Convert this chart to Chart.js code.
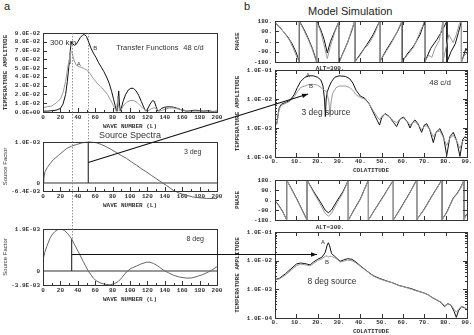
<!DOCTYPE html>
<html><head><meta charset="utf-8">
<script src="https://cdn.jsdelivr.net/npm/chart.js@4.4.1/dist/chart.umd.min.js"></script>
<style>
html,body{margin:0;padding:0;background:#fff;width:474px;height:335px;overflow:hidden;position:relative}
canvas{position:absolute;left:0;top:0}
.lab{position:absolute;font-family:"Liberation Sans",Arial,sans-serif;color:#222;white-space:nowrap}
</style></head><body>
<div class="lab" style="left:4px;top:0px;font-size:11px">a</div>
<div class="lab" style="left:244px;top:0px;font-size:11px">b</div>
<div class="lab" style="left:308px;top:5px;font-size:11px;color:#222">Model Simulation</div>
<canvas id="a1" width="474" height="335"></canvas>
<canvas id="a2" width="474" height="335"></canvas>
<canvas id="a3" width="474" height="335"></canvas>
<canvas id="b1" width="474" height="335"></canvas>
<canvas id="b2" width="474" height="335"></canvas>
<canvas id="b3" width="474" height="335"></canvas>
<canvas id="b4" width="474" height="335"></canvas>
<canvas id="ov" width="474" height="335"></canvas>
<script>
// ---------- DATA ----------
// Panel a, transfer functions (wave number L vs temperature amplitude)
const tfA_L = [0,5,10,15,20,23,26,28,30,31,32,33,34,36,38,40,43,46,50,54,58,62,66,70,74,78,81,83,84,85,86,87,88,90,93,96,100,104,108,112,116,119,122,125,128,131,134,137,140,145,150,155,160,165,170,180,190,200];
const tfA   = [0.005,0.006,0.007,0.010,0.015,0.022,0.035,0.048,0.060,0.066,0.070,0.069,0.065,0.058,0.054,0.052,0.051,0.050,0.048,0.044,0.038,0.033,0.029,0.025,0.020,0.013,0.007,0.003,0.001,0.006,0.018,0.006,0.001,0.003,0.008,0.011,0.013,0.013,0.011,0.007,0.003,0.001,0.002,0.004,0.005,0.003,0.001,0.002,0.003,0.0045,0.0045,0.0035,0.0025,0.0015,0.001,0.001,0.001,0.0005];
const tfB_L = [0,5,10,15,20,23,26,28,30,31,32,33,34,36,38,40,43,46,48,50,52,55,58,61,64,67,70,73,76,79,81,83,84,85,86,87,88,89,90,92,95,98,101,104,107,110,113,116,118,120,123,126,128,130,132,134,136,140,145,150,155,160,165,170,175,180,185,190,195,200];
const tfB   = [0.001,0.001,0.0015,0.002,0.004,0.009,0.020,0.035,0.055,0.066,0.076,0.080,0.078,0.076,0.077,0.080,0.085,0.088,0.088,0.086,0.081,0.073,0.067,0.062,0.056,0.051,0.046,0.040,0.033,0.023,0.015,0.007,0.003,0.001,0.010,0.024,0.008,0.001,0.004,0.012,0.020,0.025,0.027,0.027,0.024,0.019,0.012,0.005,0.001,0.003,0.009,0.013,0.012,0.006,0.001,0.002,0.004,0.0055,0.006,0.0055,0.004,0.002,0.001,0.0015,0.002,0.0015,0.001,0.0015,0.0005,0.001];
const tfYTicks  = [0,0.01,0.02,0.03,0.04,0.05,0.06,0.07,0.08,0.09];
const tfYLabels = ["0.0E+00","1.0E-02","2.0E-02","3.0E-02","4.0E-02","5.0E-02","6.0E-02","7.0E-02","8.0E-02","9.0E-02"];
const waveTicks  = [0,20,40,60,80,100,120,140,160,180,200];
const waveLabels = ["0","20","40","60","80","100","120","140","160","180","200"];
const waveMinor  = [10,30,50,70,90,110,130,150,170,190];

// Panel a, source spectra (normalised source factor)
const src3_L = [0,1,2.2,5,8,12,17.6,22,27,33,38.7,45,52,56,61.7,67,73,79,84.7,90,96,102,107.7,113,119,125,130.6,136,142,149.8,157,165,172,180,188,196,200];
const src3   = [0,0.12,0.27,0.38,0.47,0.57,0.67,0.75,0.84,0.90,0.94,0.98,1.0,0.995,0.98,0.94,0.88,0.81,0.74,0.67,0.60,0.51,0.43,0.35,0.27,0.18,0.10,0.02,-0.06,-0.18,-0.25,-0.30,-0.34,-0.36,-0.375,-0.38,-0.38];
const src3YTicks  = [-0.195,0,1];
const src3YLabels = ["-6.4E-03","0","1.0E-03"];
const src8_L = [0,2,4.3,8,11,13.7,16.5,19.5,22,25,28,31,33,36,40.6,46.4,52,57.9,61,65.5,70,77,82,86.6,91,96,101,107.7,113,119,123,127,132,138.5,144,150,156,165.5,171,177,183,188.5,194,199,200];
const src8   = [0.26,0.44,0.58,0.78,0.88,0.94,0.98,1.0,0.99,0.96,0.90,0.82,0.76,0.64,0.46,0.22,0.0,-0.17,-0.23,-0.28,-0.31,-0.33,-0.30,-0.25,-0.15,-0.02,0.06,0.12,0.17,0.21,0.21,0.18,0.12,0.02,-0.04,-0.10,-0.14,-0.17,-0.165,-0.13,-0.09,-0.04,0.02,0.09,0.10];
const src8YTicks  = [-0.333,0,1];
const src8YLabels = ["-3.9E-03","0","1.9E-03"];

// Panel b, colatitude axis
const colTicks  = [0,10,20,30,40,50,60,70,80,90];
const colLabels = ["0.","10.","20.","30.","40.","50.","60.","70.","80.","90."];
const phTicks   = [-180,-90,0,90,180];
const phLabels  = ["-180.","-90.","0.","90.","180."];
const ampTicks  = [1e-4,1e-3,1e-2,1e-1];
const ampLabels = ["1.0E-04","1.0E-03","1.0E-02","1.0E-01"];
const ampMinor  = [2e-4,3e-4,4e-4,5e-4,6e-4,7e-4,8e-4,9e-4,2e-3,3e-3,4e-3,5e-3,6e-3,7e-3,8e-3,9e-3,2e-2,3e-2,4e-2,5e-2,6e-2,7e-2,8e-2,9e-2];

// Phase, 3 deg source (wrap-arounds appear as repeated colatitudes)
const ph3A_c = [0,2,4,6,8,10,11.4,11.4,13.5,15.5,17.5,19.6,19.6,21.5,23,24.5,26,28,30.1,30.1,32,34,35.7,37.4,37.4,40,43,46,49.1,49.1,52,55,57.5,59.6,59.6,62,65,68,70.2,70.2,73,76,78.5,80.6,80.6,82.5,84.5,86,87.4,87.4,88.5,89.5,90];
const ph3A   = [165,130,85,40,-20,-100,-180,180,110,30,-60,-180,180,100,20,-100,0,90,180,-180,-95,-10,80,180,-180,-110,-30,60,180,-180,-80,10,90,180,-180,-110,-40,60,180,-180,-60,20,100,180,-180,-90,-20,80,180,-180,-120,-60,-80];
const ph3B_c = [0,1,3,5,7,9,11.3,11.3,13.5,15.5,17.5,19.4,19.4,21.5,23,24.5,26,28,30.1,30.1,32,34,35.5,37.4,37.4,40,42,44,46.5,49.1,49.1,52,55,57.5,59.4,59.4,62,65,67,69.5,70.2,70.2,72,73.5,75,77,78.7,78.7,81.5,83.5,85,86.5,87.4,87.4,88.5,90];
const ph3B   = [175,150,110,60,5,-80,-180,180,100,20,-70,-180,180,80,-30,-150,-40,80,180,-180,-100,-15,80,180,-180,-120,-60,-20,60,180,-180,-90,0,95,180,-180,-120,-50,40,150,180,-180,-120,-140,-60,10,180,-180,60,-10,60,160,180,-180,-130,-100];
// Amplitude, 3 deg source
const am3A_c = [0,0.5,1,1.5,2,3,5,7,9,10.5,12,14,16,18,20,21.5,22.5,23.2,23.6,24,24.5,25.5,26.5,28,30,33,35,36.5,38,40,42,44,46,48,49,50,51.6,53.5,55.5,57,58.5,60.2,62,63.3,64.5,65.6,67,68.7,70,71.1,72.5,74.2,75.5,77.3,79,80.5,82,83.6,85.2,86.7,88,89,90];
const am3A   = [2.0e-3,1.41e-3,1.58e-3,3.16e-3,5.0e-3,6.6e-3,7.6e-3,8.9e-3,1.41e-2,2.5e-2,3.98e-2,5.6e-2,6.3e-2,6.3e-2,5.6e-2,4.5e-2,2.8e-2,1.0e-2,2.5e-3,1.0e-2,1.78e-2,2.8e-2,3.98e-2,5.6e-2,6.3e-2,6.0e-2,5.0e-2,3.55e-2,2.0e-2,1.26e-2,1.07e-2,7.1e-3,3.55e-3,1.78e-3,1.26e-3,2.24e-3,3.16e-3,2.5e-3,1.58e-3,1.12e-3,2.0e-3,2.4e-3,1.66e-3,1.0e-3,1.58e-3,1.9e-3,1.41e-3,7.1e-4,1.26e-3,1.41e-3,8.9e-4,3.16e-4,7.1e-4,9.5e-4,5.0e-4,1.12e-4,5.0e-4,7.1e-4,3.55e-4,1.05e-4,3.98e-4,5.0e-4,4.5e-4];
const am3B_c = [0,0.5,1,1.5,2,3,5,7,9,10.5,12,14,16,18,20,21.5,23,24.2,25.3,25.8,26.3,27,28.5,30,33,35,36.5,38,40,42,44,46,48,49,50,51.6,53.5,55.5,57,58.5,60.2,62,63.3,64.5,65.6,67,68.7,70,71.1,72.5,74.2,75.5,77.3,79,80.5,82,83.6,85.2,86.7,88,89,90];
const am3B   = [1.78e-3,1.26e-3,1.41e-3,2.8e-3,4.5e-3,6.0e-3,7.1e-3,8.3e-3,1.2e-2,1.78e-2,2.5e-2,2.8e-2,3.2e-2,3.2e-2,3.0e-2,2.5e-2,2.0e-2,1.78e-2,7.9e-3,2.5e-3,7.9e-3,1.58e-2,2.4e-2,2.8e-2,2.8e-2,2.5e-2,2.0e-2,1.41e-2,1.12e-2,1.0e-2,7.1e-3,3.98e-3,2.4e-3,1.9e-3,2.5e-3,3.0e-3,2.4e-3,1.78e-3,1.51e-3,2.0e-3,2.2e-3,1.66e-3,1.26e-3,1.51e-3,1.66e-3,1.32e-3,8.9e-4,1.12e-3,1.2e-3,8.9e-4,5.0e-4,7.1e-4,7.9e-4,4.5e-4,2.5e-4,4.5e-4,5.6e-4,3.55e-4,2.0e-4,3.55e-4,3.98e-4,3.8e-4];
// Phase, 8 deg source
const ph8A_c = [0,1.5,3.5,5.5,5.5,8,10.5,13,15,15,18,21,23.5,25,26.5,29,32,34.4,34.4,37,40,43.8,43.8,47,51,55.5,55.5,59,63,66.4,66.4,70,74,78.2,78.2,80.5,83.6,85.2,87,88.6,88.6,89.3,90];
const ph8A   = [-5,-40,-100,-180,180,90,0,-100,-180,180,80,-10,-90,-115,-90,-10,80,180,-180,-90,10,180,-180,-80,40,180,-180,-70,60,180,-180,-80,50,180,-180,-110,20,55,110,180,-180,-140,-130];
const ph8B_c = [0,1.5,3.5,5.5,5.5,8,10.5,13,15,15,18,21,23.5,25,26.5,29,32,34.4,34.4,37,40,43.8,43.8,47,51,55.5,55.5,59,63,66.4,66.4,70,74,78.2,78.2,80.5,83.6,85.2,87,88.6,88.6,89.3,90];
const ph8B   = [-8,-45,-105,-180,180,85,-5,-105,-180,180,70,-30,-120,-145,-120,-30,70,180,-180,-95,5,180,-180,-85,35,180,-180,-75,55,180,-180,-85,45,180,-180,-115,15,50,105,180,-180,-145,-135];
// Amplitude, 8 deg source
const am8A_c = [0,2,5,8,10,12,14,16.5,18,20,22,23.5,24.5,25,25.6,26.5,28,29.5,30.5,32,34,36,38,40,43,46,49,52,55,58,61,64,67,70,72,74,76,78,79.5,81,82.5,84,85,86,87.5,89,90];
const am8A   = [2.2e-3,2.4e-3,3.55e-3,5.6e-3,7.6e-3,8.3e-3,7.9e-3,7.1e-3,8.9e-3,1.12e-2,1.32e-2,1.9e-2,3.55e-2,4.2e-2,3.3e-2,1.78e-2,1.41e-2,1.12e-2,9.5e-3,1.05e-2,1.17e-2,1.12e-2,8.9e-3,6.6e-3,4.4e-3,3.0e-3,2.4e-3,2.0e-3,1.7e-3,1.38e-3,1.2e-3,1.05e-3,8.7e-4,7.4e-4,6.3e-4,5.0e-4,4.2e-4,3.4e-4,2.5e-4,3.16e-4,2.8e-4,1.66e-4,1.05e-4,1.78e-4,2.5e-4,2.24e-4,1.9e-4];
const am8B_c = [0,2,5,8,10,12,14,16.5,18,20,22,23.5,24.5,25,25.6,26.5,28,29.5,30.5,32,34,36,38,40,43,46,49,52,55,58,61,64,67,70,72,74,76,78,79.5,81,82.5,84,85,86,87.5,89,90];
const am8B   = [2.1e-3,2.3e-3,3.16e-3,5.0e-3,6.6e-3,7.6e-3,7.2e-3,6.6e-3,7.9e-3,1.0e-2,1.17e-2,1.41e-2,1.48e-2,1.32e-2,1.41e-2,1.41e-2,1.26e-2,1.05e-2,8.9e-3,9.5e-3,1.05e-2,1.0e-2,8.3e-3,6.3e-3,4.3e-3,2.9e-3,2.3e-3,1.95e-3,1.7e-3,1.35e-3,1.2e-3,1.0e-3,8.5e-4,7.4e-4,6.3e-4,5.0e-4,4.3e-4,3.5e-4,2.7e-4,3.0e-4,2.8e-4,2.0e-4,1.6e-4,2.0e-4,2.6e-4,2.3e-4,2.0e-4];

// ---------- STYLE / HELPERS ----------
const DARK = '#111', LIGHT = '#9a9a9a', TXT = '#333';
const MONO = {family:'"Liberation Mono","DejaVu Sans Mono",monospace', size:6, weight:'bold'};
const SANS = '"Liberation Sans",Arial,sans-serif';
const pts = (xs, ys) => xs.map((x, i) => ({x, y: ys[i]}));

const framePlugin = {
  id: 'frame',
  afterDatasetsDraw(chart, args, o) {
    const {ctx, chartArea: a} = chart;
    const xs = chart.scales.x, ys = chart.scales.y;
    ctx.save();
    ctx.strokeStyle = '#333'; ctx.lineWidth = 1;
    ctx.strokeRect(Math.round(a.left) + 0.5, Math.round(a.top) + 0.5, Math.round(a.right - a.left), Math.round(a.bottom - a.top));
    ctx.beginPath();
    const xt = (list, len) => (list || []).forEach(v => {
      const p = Math.round(xs.getPixelForValue(v)) + 0.5;
      ctx.moveTo(p, a.bottom); ctx.lineTo(p, a.bottom - len);
      if (o.both) { ctx.moveTo(p, a.top); ctx.lineTo(p, a.top + len); }
    });
    const yt = (list, len) => (list || []).forEach(v => {
      const p = Math.round(ys.getPixelForValue(v)) + 0.5;
      ctx.moveTo(a.left, p); ctx.lineTo(a.left + len, p);
      if (o.both) { ctx.moveTo(a.right, p); ctx.lineTo(a.right - len, p); }
    });
    xt(o.xMajor, 4); xt(o.xMinor, 2); yt(o.yMajor, 4); yt(o.yMinor, 2);
    ctx.stroke();
    (o.notes || []).forEach(n => {
      ctx.font = n.font; ctx.fillStyle = n.color || TXT;
      ctx.textAlign = 'center'; ctx.textBaseline = 'middle';
      ctx.fillText(n.text, xs.getPixelForValue(n.x), ys.getPixelForValue(n.y));
    });
    ctx.restore();
  }
};

function mk(id, c) {
  return new Chart(document.getElementById(id), {
    type: 'line',
    data: {datasets: c.datasets.map(d => Object.assign({pointRadius: 0, borderWidth: 1, tension: 0, fill: false}, d))},
    options: {
      responsive: false, animation: false, devicePixelRatio: 1,
      layout: {padding: {left: c.pl, right: c.pr, top: c.pt, bottom: c.pb}},
      plugins: {legend: {display: false}, tooltip: {enabled: false}, frame: c.frame},
      scales: {
        x: {
          type: 'linear', min: c.xmin, max: c.xmax,
          afterFit: s => { s.height = c.xh; s.paddingLeft = 0; s.paddingRight = 0; },
          afterBuildTicks: s => { s.ticks = c.xTicks.map(v => ({value: v})); },
          ticks: {display: !!c.xLabels, callback: (v, i) => c.xLabels ? c.xLabels[i] : '', font: MONO, color: TXT, padding: c.xpad, maxRotation: 0, autoSkip: false},
          grid: {display: false, drawTicks: false}, border: {display: false},
          title: c.xTitle ? {display: true, text: c.xTitle, font: MONO, color: TXT, padding: {top: 0, bottom: c.xtpad}} : {display: false}
        },
        y: {
          type: c.ylog ? 'logarithmic' : 'linear', min: c.ymin, max: c.ymax,
          afterFit: s => { s.width = c.yw; s.paddingTop = 0; s.paddingBottom = 0; },
          afterBuildTicks: s => { s.ticks = c.yTicks.map(v => ({value: v})); },
          ticks: {callback: (v, i) => c.yLabels[i], font: MONO, color: TXT, padding: 3, autoSkip: false},
          grid: {display: false, drawTicks: false}, border: {display: false},
          title: {display: true, text: c.yTitle, font: c.yTitleFont || MONO, color: TXT, padding: {top: c.ytpad, bottom: 0}}
        }
      }
    },
    plugins: [framePlugin]
  });
}

// ---------- PANEL a ----------
const A1 = mk('a1', {
  pl: 0, yw: 43, pt: 33, pr: 257, xh: 20, pb: 203, xpad: 2, xtpad: 2,
  xmin: 0, xmax: 200, xTicks: waveTicks, xLabels: waveLabels, xTitle: 'WAVE NUMBER (L)',
  ymin: 0, ymax: 0.09, yTicks: tfYTicks, yLabels: tfYLabels, yTitle: 'TEMPERATURE AMPLITUDE', ytpad: 2,
  frame: {xMajor: waveTicks, xMinor: waveMinor, yMajor: tfYTicks, notes: [
    {x: 23, y: 0.0785, text: '300 km', font: '8px ' + SANS},
    {x: 120, y: 0.073, text: 'Transfer Functions', font: '7.5px ' + SANS},
    {x: 173, y: 0.073, text: '48 c/d', font: '7.5px ' + SANS},
    {x: 41, y: 0.054, text: 'A', font: '6px ' + SANS},
    {x: 60, y: 0.073, text: 'B', font: '6px ' + SANS}]},
  datasets: [
    {data: pts(tfA_L, tfA), borderColor: LIGHT},
    {data: pts(tfB_L, tfB), borderColor: DARK}]
});
const A2 = mk('a2', {
  pl: 0, yw: 43, pt: 142, pr: 257, xh: 20, pb: 335 - 191 - 20, xpad: 2, xtpad: 2,
  xmin: 0, xmax: 200, xTicks: waveTicks, xLabels: waveLabels, xTitle: 'WAVE NUMBER (L)',
  ymin: -0.195, ymax: 1, yTicks: src3YTicks, yLabels: src3YLabels, yTitle: 'Source Factor',
  yTitleFont: {family: SANS, size: 6}, ytpad: 2,
  frame: {xMajor: waveTicks, xMinor: waveMinor, notes: [
    {x: 100, y: 1.17, text: 'Source Spectra', font: '9px ' + SANS},
    {x: 172, y: 0.76, text: '3 deg', font: '7px ' + SANS}]},
  datasets: [
    {data: pts(src3_L, src3), borderColor: '#666', clip: false},
    {data: pts([0, 200], [0, 0]), borderColor: '#333'},
    {data: pts([52, 52], [0, 1]), borderColor: DARK}]
});
const A3 = mk('a3', {
  pl: 0, yw: 43, pt: 229, pr: 257, xh: 20, pb: 335 - 285 - 20, xpad: 2, xtpad: 2,
  xmin: 0, xmax: 200, xTicks: waveTicks, xLabels: waveLabels, xTitle: 'WAVE NUMBER (L)',
  ymin: -0.333, ymax: 1, yTicks: src8YTicks, yLabels: src8YLabels, yTitle: 'Source Factor',
  yTitleFont: {family: SANS, size: 6}, ytpad: 2,
  frame: {xMajor: waveTicks, xMinor: waveMinor, notes: [
    {x: 175, y: 0.76, text: '8 deg', font: '7px ' + SANS}]},
  datasets: [
    {data: pts(src8_L, src8), borderColor: '#666'},
    {data: pts([0, 200], [0, 0]), borderColor: '#333'},
    {data: pts([33, 33], [0, 0.76]), borderColor: DARK}]
});

// ---------- PANEL b ----------
const B1 = mk('b1', {
  pl: 232, yw: 43, pt: 21, pr: 7, xh: 2, pb: 335 - 62 - 2, xpad: 0, xtpad: 0,
  xmin: 0, xmax: 90, xTicks: colTicks, xLabels: null,
  ymin: -180, ymax: 180, yTicks: phTicks, yLabels: phLabels, yTitle: 'PHASE', ytpad: 1.5,
  frame: {both: true, xMajor: colTicks, yMajor: phTicks},
  datasets: [
    {data: pts(ph3B_c, ph3B), borderColor: LIGHT},
    {data: pts(ph3A_c, ph3A), borderColor: DARK}]
});
const B2 = mk('b2', {
  pl: 232, yw: 43, pt: 70, pr: 7, xh: 18, pb: 335 - 157 - 18, xpad: 1, xtpad: 0.5,
  xmin: 0, xmax: 90, xTicks: colTicks, xLabels: colLabels, xTitle: 'COLATITUDE',
  ylog: true, ymin: 1e-4, ymax: 1e-1, yTicks: ampTicks, yLabels: ampLabels, yTitle: 'TEMPERATURE AMPLITUDE', ytpad: 1.5,
  frame: {both: true, xMajor: colTicks, yMajor: ampTicks, yMinor: ampMinor, notes: [
    {x: 25.8, y: 0.117, text: 'ALT=300.', font: 'bold 6px "Liberation Mono",monospace'},
    {x: 15.5, y: 0.067, text: 'A', font: '6px ' + SANS},
    {x: 16.9, y: 0.028, text: 'B', font: '6px ' + SANS},
    {x: 77.4, y: 0.0356, text: '48 c/d', font: '8px ' + SANS},
    {x: 23.9, y: 0.0033, text: '3 deg source', font: '8.5px ' + SANS}]},
  datasets: [
    {data: pts(am3B_c, am3B), borderColor: LIGHT},
    {data: pts(am3A_c, am3A), borderColor: DARK}]
});
const B3 = mk('b3', {
  pl: 232, yw: 43, pt: 180, pr: 7, xh: 2, pb: 335 - 220 - 2, xpad: 0, xtpad: 0,
  xmin: 0, xmax: 90, xTicks: colTicks, xLabels: null,
  ymin: -180, ymax: 180, yTicks: phTicks, yLabels: phLabels, yTitle: 'PHASE', ytpad: 1.5,
  frame: {both: true, xMajor: colTicks, yMajor: phTicks},
  datasets: [
    {data: pts(ph8B_c, ph8B), borderColor: LIGHT},
    {data: pts(ph8A_c, ph8A), borderColor: DARK}]
});
const B4 = mk('b4', {
  pl: 232, yw: 43, pt: 232, pr: 7, xh: 17, pb: 0, xpad: 0.5, xtpad: 0,
  xmin: 0, xmax: 90, xTicks: colTicks, xLabels: colLabels, xTitle: 'COLATITUDE',
  ylog: true, ymin: 1e-4, ymax: 1e-1, yTicks: ampTicks, yLabels: ampLabels, yTitle: 'TEMPERATURE AMPLITUDE', ytpad: 1.5,
  frame: {both: true, xMajor: colTicks, yMajor: ampTicks, yMinor: ampMinor, notes: [
    {x: 25.8, y: 0.149, text: 'ALT=300.', font: 'bold 6px "Liberation Mono",monospace'},
    {x: 22.5, y: 0.045, text: 'A', font: '6px ' + SANS},
    {x: 24.4, y: 0.0085, text: 'B', font: '6px ' + SANS},
    {x: 26.7, y: 0.00188, text: '8 deg source', font: '8.5px ' + SANS}]},
  datasets: [
    {data: pts(am8B_c, am8B), borderColor: LIGHT},
    {data: pts(am8A_c, am8A), borderColor: DARK}]
});

// ---------- OVERLAY: guide lines and arrows ----------
(function () {
  const ctx = document.getElementById('ov').getContext('2d');
  const px = (ch, v) => ch.scales.x.getPixelForValue(v);
  const py = (ch, v) => ch.scales.y.getPixelForValue(v);
  ctx.save();
  ctx.strokeStyle = '#777'; ctx.lineWidth = 0.8; ctx.setLineDash([1.5, 1.5]);
  ctx.beginPath();
  const x33 = Math.round(px(A1, 33)) + 0.5, x52 = Math.round(px(A1, 52)) + 0.5;
  ctx.moveTo(x33, A1.chartArea.top); ctx.lineTo(x33, py(A3, 0.76));
  ctx.moveTo(x52, A1.chartArea.top); ctx.lineTo(x52, A2.chartArea.top);
  ctx.stroke();
  ctx.restore();
  function arrow(x0, y0, x1, y1) {
    ctx.save();
    ctx.strokeStyle = '#111'; ctx.fillStyle = '#111'; ctx.lineWidth = 1.1;
    ctx.beginPath(); ctx.moveTo(x0, y0); ctx.lineTo(x1, y1); ctx.stroke();
    const ang = Math.atan2(y1 - y0, x1 - x0), L = 6, W = 2.2;
    ctx.beginPath();
    ctx.moveTo(x1, y1);
    ctx.lineTo(x1 - L * Math.cos(ang) + W * Math.sin(ang), y1 - L * Math.sin(ang) - W * Math.cos(ang));
    ctx.lineTo(x1 - L * Math.cos(ang) - W * Math.sin(ang), y1 - L * Math.sin(ang) + W * Math.cos(ang));
    ctx.closePath(); ctx.fill();
    ctx.restore();
  }
  arrow(px(A2, 52), py(A2, 0.5), px(B2, 15.5), py(B2, 0.0148));
  const yh = Math.round(py(A3, 0.40)) + 0.5;
  arrow(px(A3, 33), yh, px(B4, 19.7), yh);
})();
</script>
</body></html>
